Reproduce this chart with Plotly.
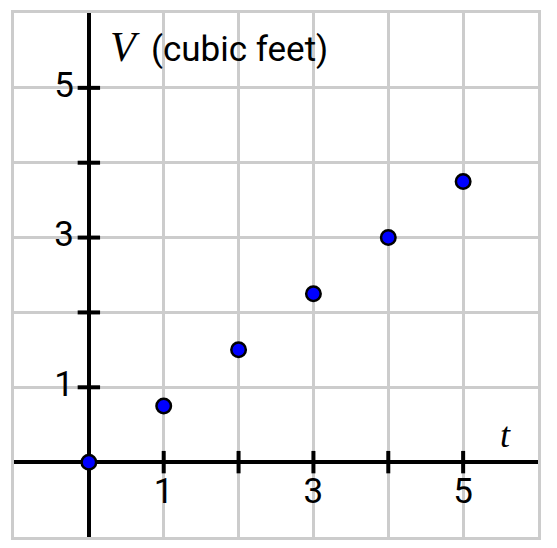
import plotly.graph_objects as go

t_vals = [0, 1, 2, 3, 4, 5]
v_vals = [0, 0.75, 1.5, 2.25, 3, 3.75]
tick_positions = [1, 2, 3, 4, 5]
label_values = [1, 3, 5]

FONT = "Roboto"
SERIF = "Liberation Serif"

fig = go.Figure()

# tick marks crossing the axes
fig.add_trace(go.Scatter(x=tick_positions, y=[0]*len(tick_positions), mode="markers",
                         marker=dict(symbol="line-ns", size=16, line=dict(width=4, color="black")),
                         hoverinfo="skip", showlegend=False, cliponaxis=False))
fig.add_trace(go.Scatter(x=[0]*len(tick_positions), y=tick_positions, mode="markers",
                         marker=dict(symbol="line-ew", size=16, line=dict(width=4, color="black")),
                         hoverinfo="skip", showlegend=False, cliponaxis=False))

# tick labels
fig.add_trace(go.Scatter(x=label_values, y=[-0.43]*len(label_values), mode="text",
                         text=[str(v) for v in label_values], textposition="middle center",
                         textfont=dict(family=FONT, size=35, color="black"),
                         hoverinfo="skip", showlegend=False))
fig.add_trace(go.Scatter(x=[-0.2]*len(label_values), y=label_values, mode="text",
                         text=[str(v) for v in label_values], textposition="middle left",
                         textfont=dict(family=FONT, size=35, color="black"),
                         hoverinfo="skip", showlegend=False))

# data points
fig.add_trace(go.Scatter(x=t_vals, y=v_vals, mode="markers",
                         marker=dict(size=14.5, color="#0000ff", line=dict(width=2.5, color="black")),
                         showlegend=False, cliponaxis=False))

fig.add_annotation(x=0.26, y=5.55, xref="x", yref="y", xanchor="left", yanchor="middle",
                   text="<i>V</i>", showarrow=False,
                   font=dict(family=SERIF, size=42, color="black"))
fig.add_annotation(x=0.8, y=5.51, xref="x", yref="y", xanchor="left", yanchor="middle",
                   text="(cubic feet)", showarrow=False,
                   font=dict(family=FONT, size=35, color="black"))
fig.add_annotation(x=5.56, y=0.36, xref="x", yref="y", xanchor="center", yanchor="middle",
                   text="<i>t</i>", showarrow=False,
                   font=dict(family=SERIF, size=36, color="black"))

axis_common = dict(showgrid=True, gridcolor="#cccccc", gridwidth=2.5, dtick=1, tick0=0,
                   showticklabels=False, ticks="", zeroline=True, zerolinecolor="black",
                   zerolinewidth=4, showline=True, linecolor="#cccccc", linewidth=2.5,
                   mirror=True, fixedrange=True)
fig.update_xaxes(range=[-1, 6], **axis_common)
fig.update_yaxes(range=[-1, 6], **axis_common)

fig.update_layout(width=541, height=532, margin=dict(l=6, r=11, t=5, b=3),
                  plot_bgcolor="white", paper_bgcolor="white")

fig.write_html("out.html")
